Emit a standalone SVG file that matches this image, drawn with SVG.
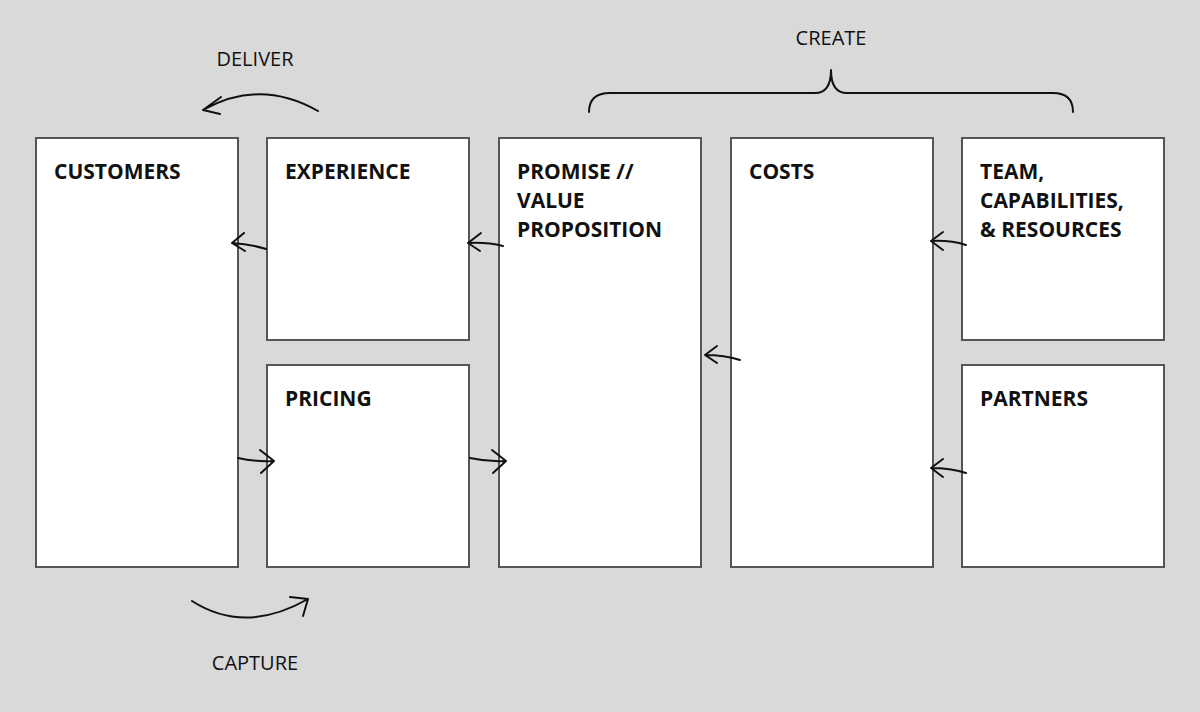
<svg xmlns="http://www.w3.org/2000/svg" width="1200" height="712" viewBox="0 0 1200 712">
<style>
.box{fill:#fff;stroke:#555;stroke-width:2}
.t{font-family:"Open Sans","Liberation Sans",sans-serif;font-weight:700;font-size:21px;fill:#111}
.l{font-family:"Open Sans","Liberation Sans",sans-serif;font-size:20px;fill:#111}
.a{fill:none;stroke:#111;stroke-width:2;stroke-linecap:round;stroke-linejoin:round}
</style>
<rect width="1200" height="712" fill="#d9d9d9"/>
<g id="customers"><rect class="box" x="36" y="138" width="202" height="429"/><text class="t" x="54" y="179">CUSTOMERS</text></g>
<g id="experience"><rect class="box" x="267" y="138" width="202" height="202"/><text class="t" x="285" y="179">EXPERIENCE</text></g>
<g id="pricing"><rect class="box" x="267" y="365" width="202" height="202"/><text class="t" x="285" y="406">PRICING</text></g>
<g id="promise"><rect class="box" x="499" y="138" width="202" height="429"/><text class="t" x="517" y="179">PROMISE //</text><text class="t" x="517" y="208">VALUE</text><text class="t" x="517" y="237">PROPOSITION</text></g>
<g id="costs"><rect class="box" x="731" y="138" width="202" height="429"/><text class="t" x="749" y="179">COSTS</text></g>
<g id="team"><rect class="box" x="962" y="138" width="202" height="202"/><text class="t" x="980" y="179">TEAM,</text><text class="t" x="980" y="208">CAPABILITIES,</text><text class="t" x="980" y="237">&amp; RESOURCES</text></g>
<g id="partners"><rect class="box" x="962" y="365" width="202" height="202"/><text class="t" x="980" y="406">PARTNERS</text></g>
<g id="labels">
<text class="l" x="255" y="66" text-anchor="middle">DELIVER</text>
<text class="l" x="255" y="670" text-anchor="middle">CAPTURE</text>
<text class="l" x="831" y="45" text-anchor="middle">CREATE</text>
</g>
<g id="connectors">
<path class="a" d="M318,111 Q260,78 203,110 M221,97 L203,110 L220,114"/>
<path class="a" d="M192,601 Q245,635 308,599 M290,597 L308,599 L303,616"/>
<path class="a" d="M589,112 Q589,93 610,93 L815,93 Q831,93 831,70 Q831,93 847,93 L1053,93 Q1073,93 1073,112"/>
<path class="a" d="M266,249 Q250,244 232,243 M244,233 L232,243 L245,251"/>
<path class="a" d="M503,246 Q487,242 468,243 M481,233 L468,243 L480,251"/>
<path class="a" d="M740,360 Q724,355 705,355 M717,346 L705,355 L717,363"/>
<path class="a" d="M966,245 Q950,240 931,241 M943,232 L931,241 L943,250"/>
<path class="a" d="M966,473 Q950,468 931,468 M943,459 L931,468 L943,477"/>
<path class="a" d="M238,458 Q256,462 274,461 M260,450 L274,461 L261,473"/>
<path class="a" d="M470,458 Q488,462 506,461 M492,450 L506,461 L493,473"/>
</g>
</svg>
